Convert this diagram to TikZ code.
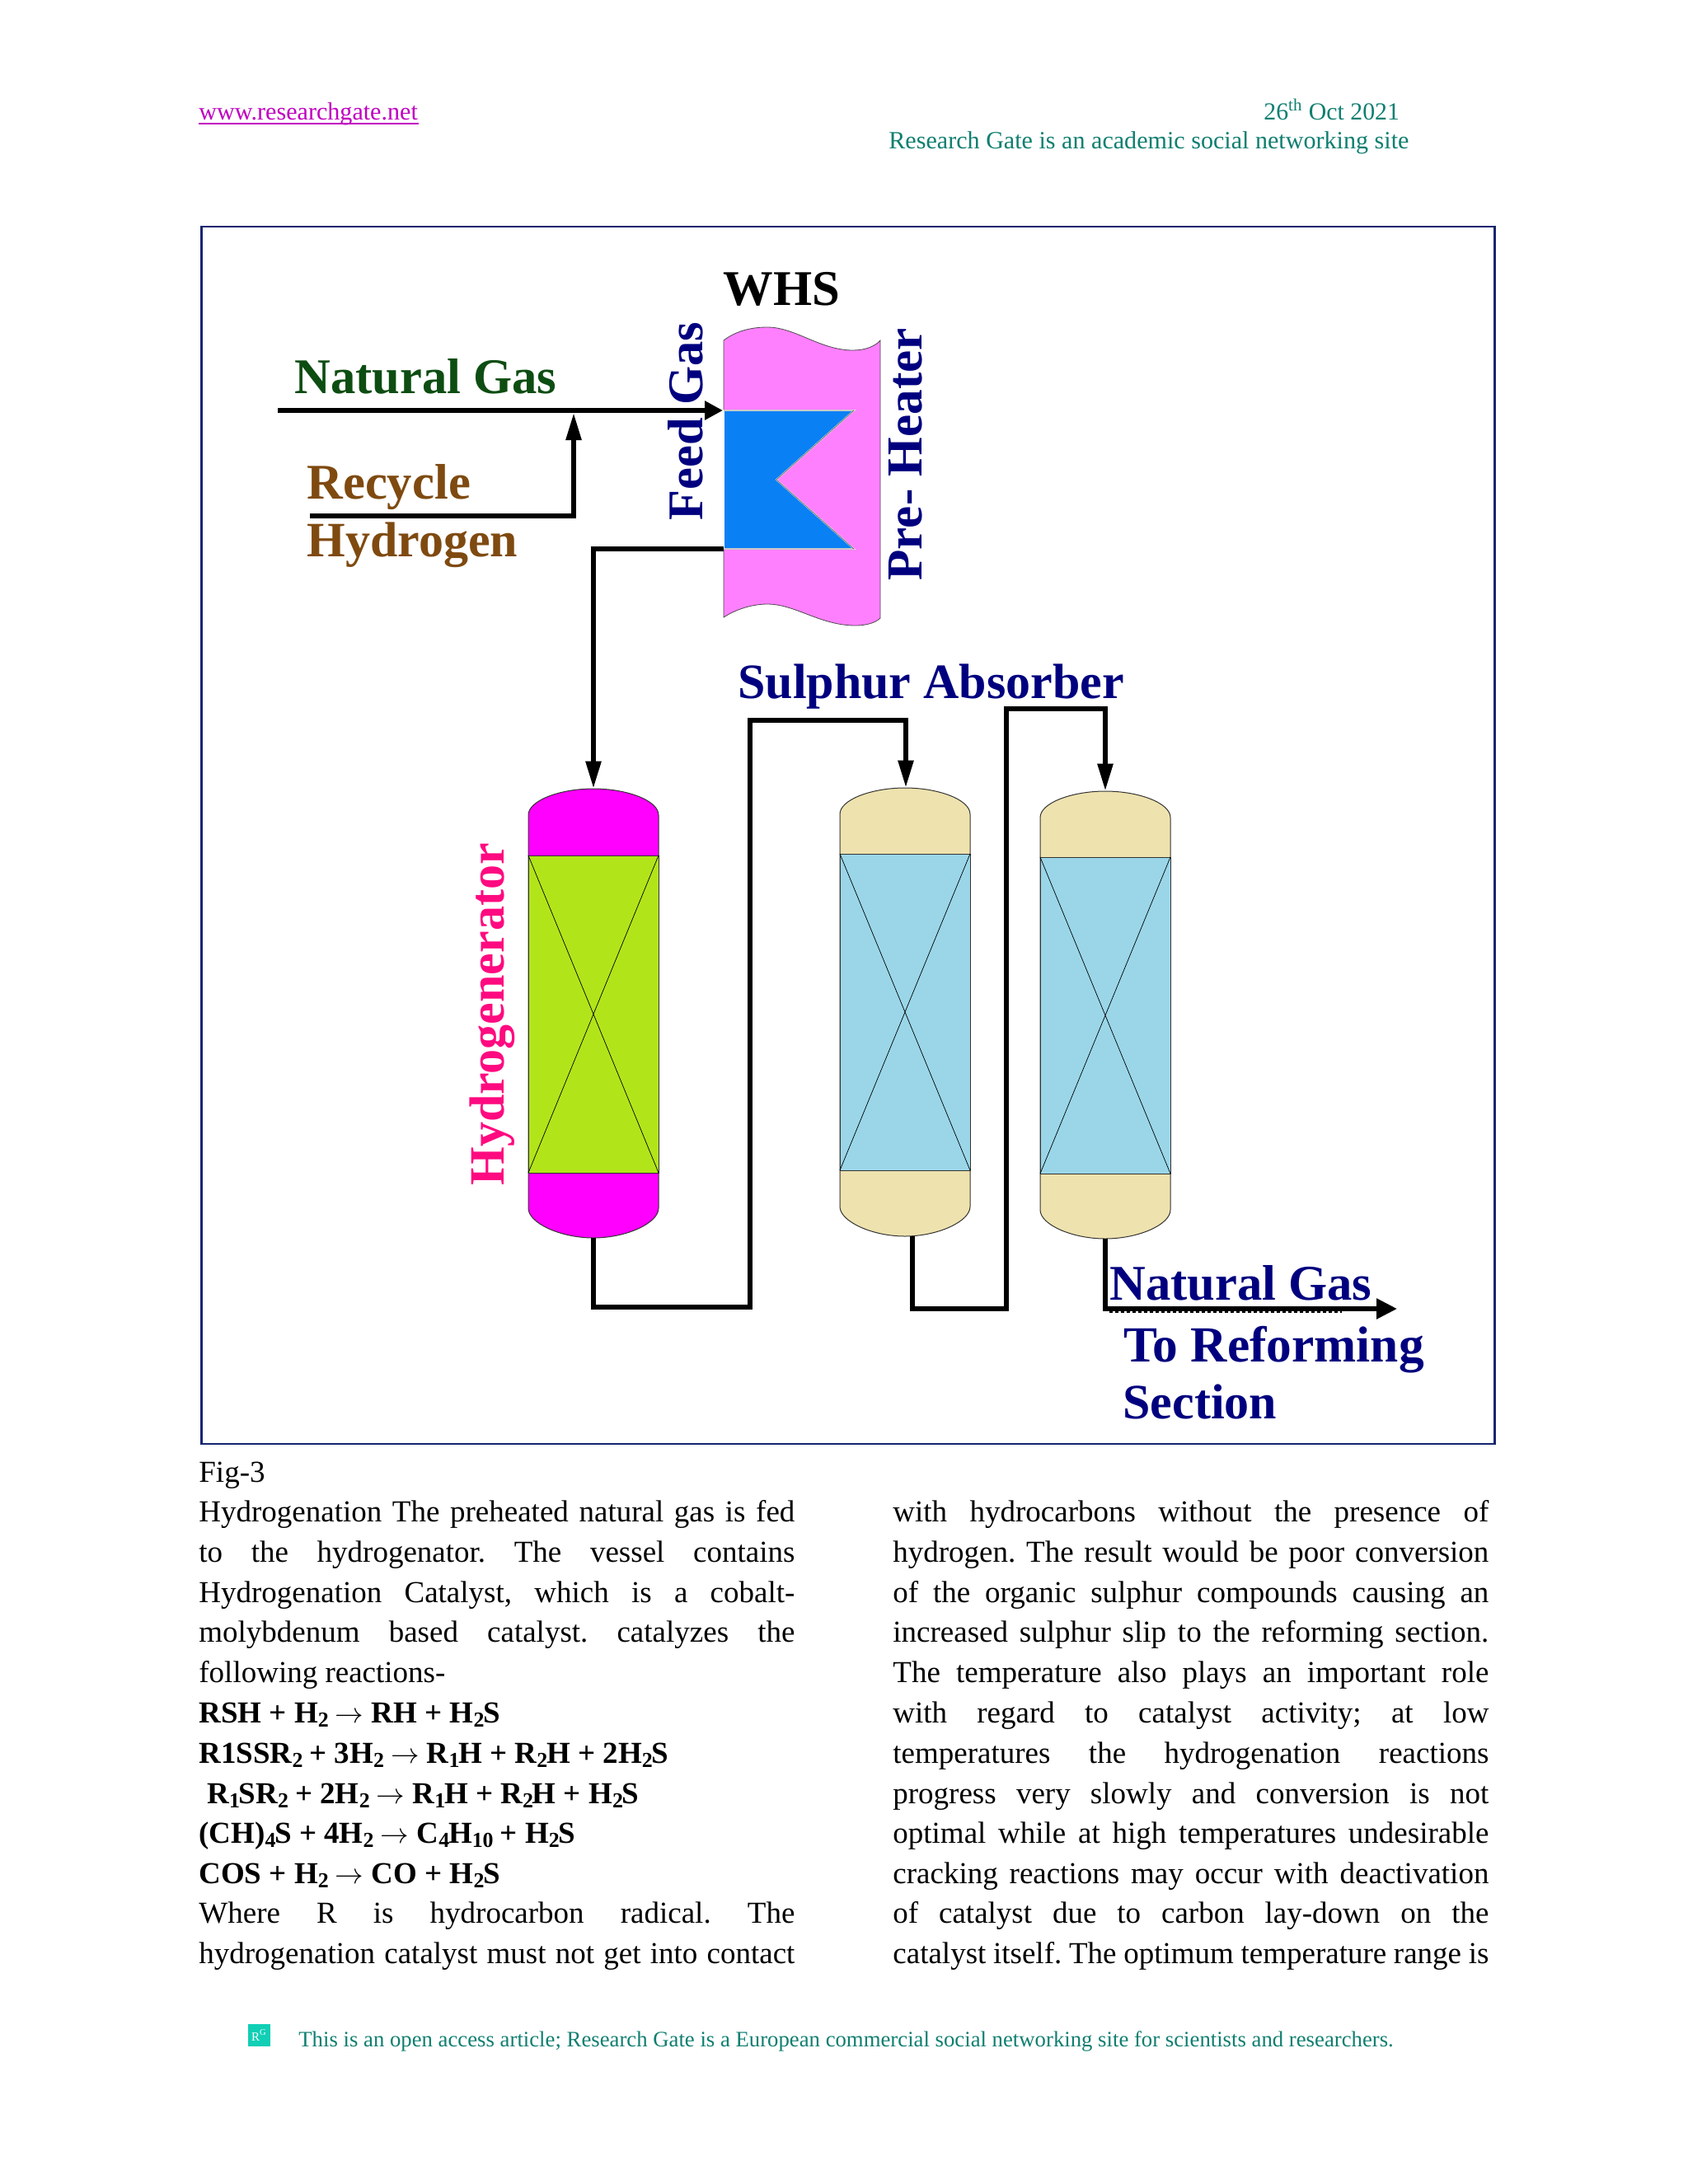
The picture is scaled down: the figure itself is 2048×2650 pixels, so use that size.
\documentclass[tikz,border=0pt]{standalone}
\usepackage{fontspec}
\setmainfont{Liberation Serif}
\usetikzlibrary{arrows.meta,calc}
\definecolor{navytxt}{HTML}{00007F}
\definecolor{framecol}{HTML}{142570}
\definecolor{greentxt}{HTML}{0D4D12}
\definecolor{browntxt}{HTML}{7F4A10}
\definecolor{pinktxt}{HTML}{FF0A80}
\definecolor{phcol}{HTML}{FF80FF}
\definecolor{bluecol}{HTML}{0A80F5}
\definecolor{capmag}{HTML}{FF00FF}
\definecolor{capsand}{HTML}{EEE2AE}
\definecolor{bodylime}{HTML}{B2E41A}
\definecolor{bodysky}{HTML}{9AD6E8}
\definecolor{tealtxt}{HTML}{0F7F70}
\definecolor{magtxt}{HTML}{C000C0}
\definecolor{logocol}{HTML}{10CFB5}
\newcommand{\bodyw}{\makebox[361.5pt][s]}
\newcommand{\sub}[1]{\textsubscript{#1}\kern-1.1pt\relax}
\newcommand{\yields}{\ensuremath{\rightarrow}}
\tikzset{
  lbl/.style={inner sep=0,anchor=base west,font=\fontsize{30.3}{36}\selectfont\bfseries},
  vlbl/.style={lbl,rotate=90},
  pipe/.style={line width=2.8pt,draw=black,line join=miter},
  flow/.style={pipe,-{Triangle[length=16.5pt,width=9pt]}},
  bodyline/.style={inner sep=0,anchor=base west,font=\fontsize{18.5}{22}\selectfont\frenchspacing},
  eqline/.style={bodyline,font=\fontsize{18.5}{22}\selectfont\bfseries},
  small/.style={inner sep=0,anchor=base west,font=\fontsize{15.05}{18}\selectfont},
  vesselbox/.style={inner sep=0,minimum width=79pt},
  shell/.style={draw=black!80,line width=0.5pt},
  crossline/.style={draw=black,line width=0.35pt}
}
% #1 cx, #2 top, #3 shoulder, #4 band, #5 low band, #6 low shoulder, #7 bottom, #8 cap, #9 body
\newcommand{\vesselshape}[9]{%
  \fill[#8] (#1-79,#3) .. controls (#1-79,#3-18) and (#1-40,#2) .. (#1,#2) .. controls (#1+40,#2) and (#1+79,#3-18) .. (#1+79,#3)
     -- (#1+79,#6) .. controls (#1+79,#6+18) and (#1+40,#7) .. (#1,#7) .. controls (#1-40,#7) and (#1-79,#6+18) .. (#1-79,#6) -- cycle;
  \draw[shell] (#1-79,#3) .. controls (#1-79,#3-18) and (#1-40,#2) .. (#1,#2) .. controls (#1+40,#2) and (#1+79,#3-18) .. (#1+79,#3)
     -- (#1+79,#6) .. controls (#1+79,#6+18) and (#1+40,#7) .. (#1,#7) .. controls (#1-40,#7) and (#1-79,#6+18) .. (#1-79,#6) -- cycle;
  \fill[#9] (#1-79,#4) rectangle (#1+79,#5);
  \draw[shell] (#1-79,#4) rectangle (#1+79,#5);
  \draw[crossline] (#1-79,#4) -- (#1+79,#5) (#1+79,#4) -- (#1-79,#5);
}
\begin{document}
\begin{tikzpicture}[x=0.5pt,y=-0.5pt]
\useasboundingbox (0,0) rectangle (2048,2650);
\fill[white] (0,0) rectangle (2048,2650);
% header
\node[small,magtxt] (hurl) at (241,145) {www.researchgate.net};
\draw[magtxt,line width=1pt] (241,150) -- (508,150);
\node[small,tealtxt,font=\fontsize{14.9}{18}\selectfont] (hdate) at (1533,145) {26\textsuperscript{th} Oct 2021};
\node[small,tealtxt] (hsite) at (1078,180) {Research Gate is an academic social networking site};
% frame
\node[draw=framecol,line width=1.4pt,inner sep=0,outer sep=0,minimum width=784.5pt,minimum height=738.5pt,anchor=north west] (frame) at (244.5,275) {};
% preheater
\node[inner sep=0,minimum width=95pt,minimum height=181pt,anchor=north west] (ph) at (878,397) {};
\fill[phcol] (878,413) .. controls (895,400) and (915,397) .. (931,397) .. controls (965,397) and (995,425) .. (1035,425) .. controls (1050,425) and (1062,420) .. (1068,413)
 -- (1068,750) .. controls (1062,756) and (1050,759) .. (1038,759) .. controls (995,759) and (965,733) .. (931,733) .. controls (915,733) and (895,738) .. (878,749) -- cycle;
\draw[black!70,line width=0.4pt] (878,413) .. controls (895,400) and (915,397) .. (931,397) .. controls (965,397) and (995,425) .. (1035,425) .. controls (1050,425) and (1062,420) .. (1068,413) -- (1068,750) .. controls (1062,756) and (1050,759) .. (1038,759) .. controls (995,759) and (965,733) .. (931,733) .. controls (915,733) and (895,738) .. (878,749) -- cycle;
\draw[fill=bluecol,draw=white,line width=0.8pt] (878,498) -- (1036,498) -- (942,582) -- (1036,666) -- (878,666) -- cycle;
\draw[black!60,line width=0.4pt] (878,498) -- (1036,498) -- (942,582) -- (1036,666) -- (878,666);
% vessels
\vesselshape{720}{957}{989}{1038}{1423}{1466}{1502}{capmag}{bodylime}
\vesselshape{1098}{956}{988}{1036}{1420}{1464}{1500}{capsand}{bodysky}
\vesselshape{1341}{960}{992}{1040}{1424}{1468}{1503}{capsand}{bodysky}
\node[vesselbox,minimum height=272.5pt] (v1) at (720,1229.5) {};
\node[vesselbox,minimum height=272pt] (v2) at (1099,1228) {};
\node[vesselbox,minimum height=271.5pt] (v3) at (1341,1231.5) {};
% connector ends
\coordinate (ngstart) at (337,498);
\coordinate (phin) at (877,498);
\coordinate (rhstart) at (376,626);
\coordinate (rhjoin) at (696,501);
\coordinate (phout) at (878,666);
\coordinate (v2out) at (1107,1500);
\coordinate (outend) at (1695,1588);
\coordinate (riseA) at (910,1586);
\coordinate (topA) at (910,874);
\coordinate (riseB) at (1221,1588);
\coordinate (topB) at (1221,860);
\draw[pipe,line width=3pt,-{Triangle[length=11pt,width=11pt]}] (ngstart) -- (phin);
\draw[flow] (rhstart) -| (rhjoin);
\draw[flow] (phout) -| (v1.north);
\draw[flow] (v1.south) |- (riseA) -- (topA) -| (v2.north);
\draw[flow] (v2out) |- (riseB) -- (topB) -| (v3.north);
\draw[pipe,-{Triangle[length=12.5pt,width=12pt]}] (v3.south) |- (outend);
\draw[black,line width=1pt,dash pattern=on 2pt off 1.5pt] (1346,1592) -- (1628,1592);
% labels
\node[lbl,black] (whs) at (877,370) {WHS};
\node[lbl,greentxt] (ng) at (357,477) {Natural Gas};
\node[lbl,browntxt] (rec) at (372,605) {Recycle};
\node[lbl,browntxt,font=\fontsize{30}{36}\selectfont\bfseries] (hyd) at (372,675) {Hydrogen};
\node[vlbl,navytxt] (feed) at (852,632) {Feed Gas};
\node[vlbl,navytxt,font=\fontsize{30.6}{36}\selectfont\bfseries] (pre) at (1118,705) {Pre- Heater};
\node[lbl,navytxt,font=\fontsize{30}{36}\selectfont\bfseries] (sulph) at (895,847) {Sulphur Absorber};
\node[vlbl,pinktxt,font=\fontsize{30}{36}\selectfont\bfseries] (hgen) at (611,1439) {Hydrogenerator};
\node[lbl,navytxt] (ngout) at (1346,1577) {Natural Gas};
\node[lbl,navytxt,font=\fontsize{30.7}{36}\selectfont\bfseries] (toref) at (1363,1652) {To Reforming};
\node[lbl,navytxt,font=\fontsize{30}{36}\selectfont\bfseries] (sect) at (1362,1721) {Section};
% caption and left column
\node[bodyline] (fig) at (241,1798) {Fig-3};
\node[bodyline] (a1) at (241,1846) {\bodyw{Hydrogenation The preheated natural gas is fed}};
\node[bodyline] (a2) at (241,1895) {\bodyw{to the hydrogenator. The vessel contains}};
\node[bodyline] (a3) at (241,1944) {\bodyw{Hydrogenation Catalyst, which is a cobalt-}};
\node[bodyline] (a4) at (241,1992) {\bodyw{molybdenum based catalyst. catalyzes the}};
\node[bodyline] (a5) at (241,2041) {following reactions-};
\node[eqline] (a6) at (241,2090) {RSH + H\sub{2} \yields{} RH + H\sub{2}S};
\node[eqline] (a7) at (241,2139) {R1SSR\sub{2} + 3H\sub{2} \yields{} R\sub{1}H + R\sub{2}H + 2H\sub{2}S};
\node[eqline] (a8) at (251,2188) {R\sub{1}SR\sub{2} + 2H\sub{2} \yields{} R\sub{1}H + R\sub{2}H + H\sub{2}S};
\node[eqline] (a9) at (241,2236) {(CH)\sub{4}S + 4H\sub{2} \yields{} C\sub{4}H\sub{10} + H\sub{2}S};
\node[eqline] (a10) at (241,2285) {COS + H\sub{2} \yields{} CO + H\sub{2}S};
\node[bodyline] (a11) at (241,2333) {\bodyw{Where R is hydrocarbon radical. The}};
\node[bodyline] (a12) at (241,2382) {\bodyw{hydrogenation catalyst must not get into contact}};
% right column
\node[bodyline] (b1) at (1083,1846) {\bodyw{with hydrocarbons without the presence of}};
\node[bodyline] (b2) at (1083,1895) {\bodyw{hydrogen. The result would be poor conversion}};
\node[bodyline] (b3) at (1083,1944) {\bodyw{of the organic sulphur compounds causing an}};
\node[bodyline] (b4) at (1083,1992) {\bodyw{increased sulphur slip to the reforming section.}};
\node[bodyline] (b5) at (1083,2041) {\bodyw{The temperature also plays an important role}};
\node[bodyline] (b6) at (1083,2090) {\bodyw{with regard to catalyst activity; at low}};
\node[bodyline] (b7) at (1083,2139) {\bodyw{temperatures the hydrogenation reactions}};
\node[bodyline] (b8) at (1083,2188) {\bodyw{progress very slowly and conversion is not}};
\node[bodyline] (b9) at (1083,2236) {\bodyw{optimal while at high temperatures undesirable}};
\node[bodyline] (b10) at (1083,2285) {\bodyw{cracking reactions may occur with deactivation}};
\node[bodyline] (b11) at (1083,2333) {\bodyw{of catalyst due to carbon lay-down on the}};
\node[bodyline] (b12) at (1083,2382) {\bodyw{catalyst itself. The optimum temperature range is}};
% footer
\node[fill=logocol,text=white,inner sep=0,minimum width=13.5pt,minimum height=13.5pt,font=\fontsize{7.5}{8}\selectfont] (logo) at (314.5,2469.5) {R\textsuperscript{G}};
\node[small,tealtxt,font=\fontsize{13.37}{16}\selectfont] (foot) at (362,2483) {This is an open access article; Research Gate is a European commercial social networking site for scientists and researchers.};
\end{tikzpicture}
\end{document}
